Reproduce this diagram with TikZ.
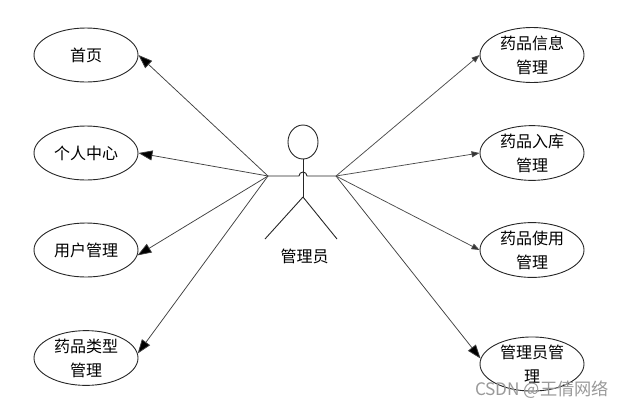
\documentclass[tikz,border=0pt]{standalone}
\usepackage{fontspec}
\setmainfont{Noto Sans CJK SC}
\usetikzlibrary{arrows.meta,shapes.geometric}
\tikzset{
  usecase/.style={draw=black!85,line width=.9pt,ellipse,minimum width=104pt,minimum height=54pt,inner sep=0pt,align=center,font=\fontsize{16pt}{24pt}\selectfont},
  actorline/.style={draw=black!85,line width=.9pt},
  bigarrow/.style={draw=black!75,line width=.75pt,-{Triangle[length=14pt,width=10pt,fill=black]}},
  smallarrow/.style={draw=black!70,line width=.75pt,-{Triangle[length=8pt,width=6pt,fill=black!80]}},
}
\begin{document}
\begin{tikzpicture}[x=1pt,y=-1pt]
\useasboundingbox (0,0) rectangle (627,408);
\node[usecase] (a1) at (86,55) {首页};
\node[usecase] (a2) at (86,153) {个人中心};
\node[usecase] (a3) at (86,250) {用户管理};
\node[usecase] (a4) at (86,358) {药品类型\\管理};
\node[usecase] (b1) at (532,55) {药品信息\\管理};
\node[usecase] (b2) at (532,153) {药品入库\\管理};
\node[usecase] (b3) at (532,250) {药品使用\\管理};
\node[usecase] (b4) at (532,364) {管理员管\\理};
\node[draw=black!85,line width=.9pt,ellipse,minimum width=30pt,minimum height=34pt,inner sep=0pt] (head) at (303,142) {};
\coordinate (hipc) at (303,197);
\coordinate (lh) at (268,176);
\coordinate (rh) at (336,176);
\coordinate (lf) at (265,239);
\coordinate (rf) at (337,239);
\coordinate (hl) at (299,176);
\coordinate (hr) at (307,176);
\draw[actorline] (head.south) -- (hipc);
\draw[actorline] (hipc) -- (lf);
\draw[actorline] (hipc) -- (rf);
\draw[actorline] (lh) -- (hl) arc[start angle=180,end angle=0,radius=4pt] -- (rh);
\node[font=\fontsize{16pt}{18pt}\selectfont] (actor) at (304.5,256) {管理员};
\draw[bigarrow] (lh) -- (a1.east);
\draw[bigarrow] (lh) -- (a2.east);
\draw[bigarrow] (lh) -- (a3.-6);
\draw[bigarrow] (lh) -- (a4.5);
\draw[smallarrow] (rh) -- (b1.west);
\draw[smallarrow] (rh) -- (b2.west);
\draw[smallarrow] (rh) -- (b3.west);
\draw[bigarrow] (rh) -- (b4.174);
\node[text=black!40,font=\fontsize{17.2pt}{18pt}\selectfont,anchor=east] (wm) at (612.5,390) {CSDN @王倩网络};
\end{tikzpicture}
\end{document}
